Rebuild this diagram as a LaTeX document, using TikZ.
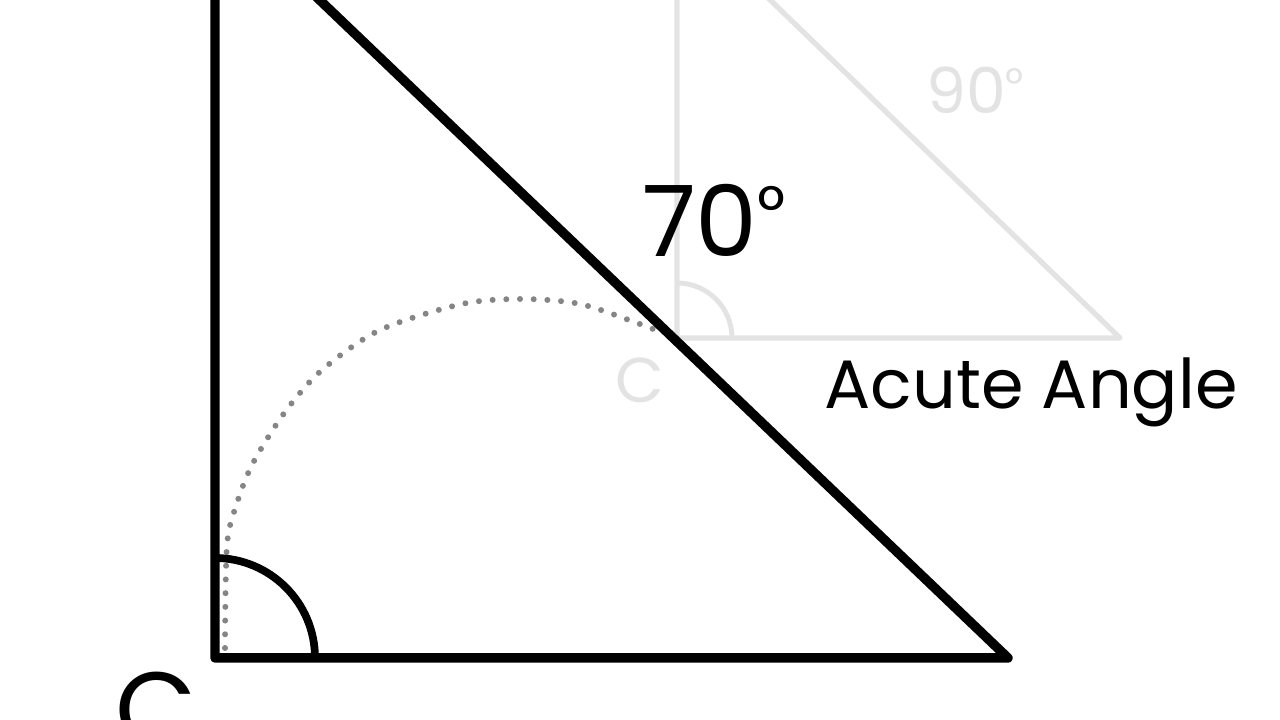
\documentclass[tikz,border=0pt]{standalone}
\usepackage{fontspec}
\setmainfont{Poppins}
\usepackage{tikz}
\usetikzlibrary{calc}
\usepackage{xcolor}
\definecolor{ghost}{HTML}{E3E3E3}
\definecolor{dotgray}{HTML}{858585}
\newcommand{\degsign}{\raisebox{0.22em}{\scalebox{0.7}{°}}}

\begin{document}
\begin{tikzpicture}[line join = round]
\useasboundingbox (0,0) rectangle (12.8,7.2);
\clip (0,0) rectangle (12.8,7.2);
% faded triangle behind
\coordinate (Cg) at (6.77,3.82);
\coordinate (Ag) at (6.77,8.10);
\coordinate (Bg) at (11.20,3.82);
\draw[ghost, line width = 1.5pt] (Ag) -- (Cg) -- (Bg) -- cycle;
\draw[ghost, line width = 1.4pt] ($(Cg)+(0.55,0)$) arc[start angle=0, end angle=90, radius=0.55];
\node[ghost, font=\fontsize{18}{18}\selectfont] (cg) at (6.40,3.40) {C};
\node[ghost, font=\fontsize{18}{18}\selectfont] (ang90) at (9.75,6.30) {90\degsign};
% main triangle
\coordinate (C) at (2.15,0.62);
\coordinate (A) at (2.15,8.20);
\coordinate (B) at (10.08,0.62);
\draw[dotgray, line width = 1.7pt, line cap = round, dash pattern = on 0pt off 3.9pt] plot[smooth] coordinates {(2.25,0.72) (2.27,1.75) (2.37,2.17) (2.53,2.57) (2.85,3.08) (3.22,3.50) (3.80,3.90) (4.62,4.16) (5.22,4.21) (5.80,4.16) (6.37,3.97) (6.63,3.87)};
\draw[line width = 2.7pt] (A) -- (C) -- (B) -- cycle;
\draw[line width = 2.2pt] ($(C)+(1.0,0)$) arc[start angle=0, end angle=90, radius=1.0];  % 直角的弧
\node[font=\fontsize{28}{28}\selectfont] (ang70) at (7.14,5.00) {70\degsign};
\node[font=\fontsize{19.5}{20}\selectfont] (acute) at (10.31,3.28) {Acute Angle};
\node[font=\fontsize{30}{30}\selectfont] (c) at (1.56,0.10) {C};
\end{tikzpicture}
\end{document}
